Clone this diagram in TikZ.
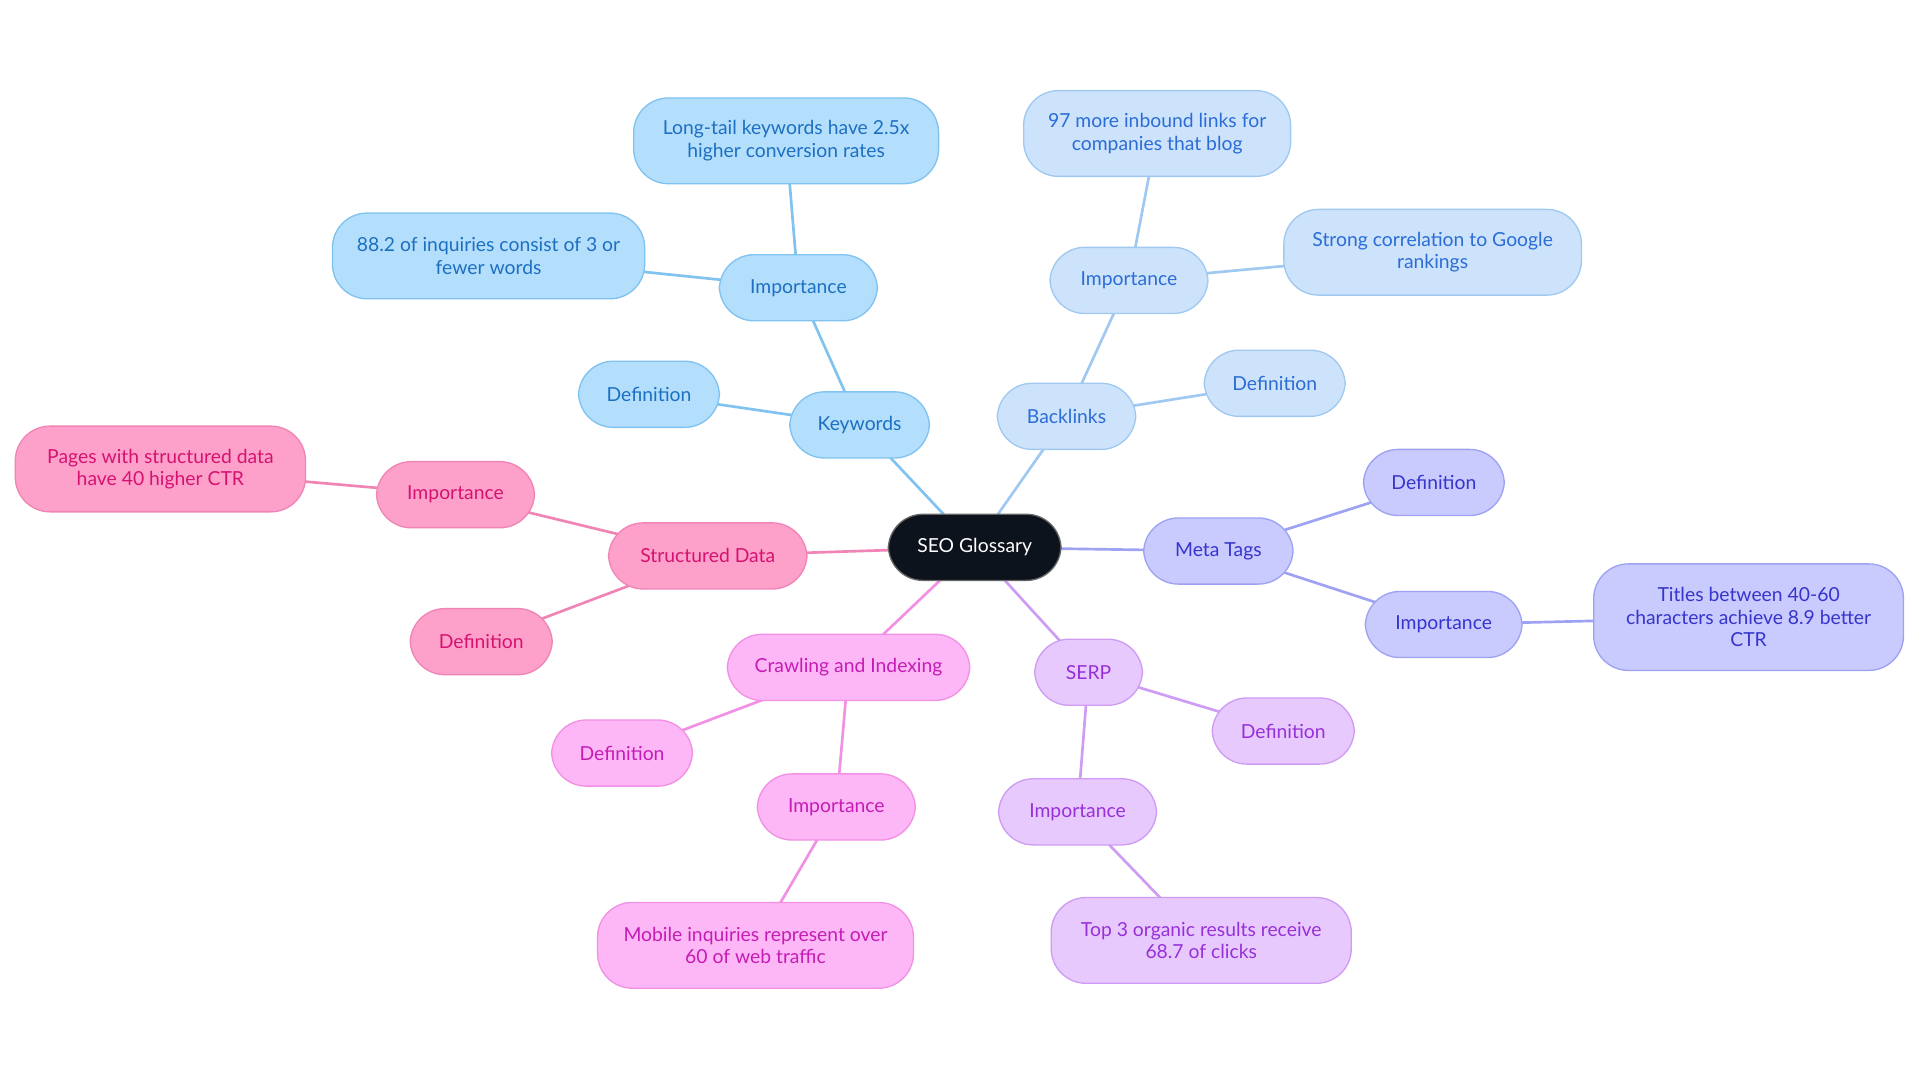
\documentclass[tikz,border=0pt]{standalone}
\usepackage{fontspec}
\setmainfont{Lato}
\usetikzlibrary{backgrounds}
\definecolor{rootfill}{HTML}{0D131C}
\definecolor{kwfill}{HTML}{B3DFFD}\definecolor{kwdraw}{HTML}{80C2F0}\definecolor{kwtext}{HTML}{1D6FC1}
\definecolor{blfill}{HTML}{CDE3FB}\definecolor{bldraw}{HTML}{A0C9F2}\definecolor{bltext}{HTML}{2B6CD6}
\definecolor{mtfill}{HTML}{C9CAFD}\definecolor{mtdraw}{HTML}{9EA2F2}\definecolor{mttext}{HTML}{3535CC}
\definecolor{sefill}{HTML}{E8C9FD}\definecolor{sedraw}{HTML}{CF9CF3}\definecolor{setext}{HTML}{9630D8}
\definecolor{crfill}{HTML}{FDB7F6}\definecolor{crdraw}{HTML}{F290E4}\definecolor{crtext}{HTML}{C41CB5}
\definecolor{sdfill}{HTML}{FDA1CB}\definecolor{sddraw}{HTML}{F085B5}\definecolor{sdtext}{HTML}{D51270}
\tikzset{
  x=0.9184pt,y=-0.9184pt,
  box/.style={rectangle, rounded corners=26pt, line width=1pt, align=center, inner sep=0pt, font=\fontsize{14.5}{17}\selectfont},
  wh/.style 2 args={minimum width=0.9184*#1pt, minimum height=0.9184*#2pt},
  root/.style={box, fill=rootfill, draw=black!60, text=white},
  kw/.style={box, fill=kwfill, draw=kwdraw, text=kwtext},
  bl/.style={box, fill=blfill, draw=bldraw, text=bltext},
  mt/.style={box, fill=mtfill, draw=mtdraw, text=mttext},
  se/.style={box, fill=sefill, draw=sedraw, text=setext},
  cr/.style={box, fill=crfill, draw=crdraw, text=crtext},
  sd/.style={box, fill=sdfill, draw=sddraw, text=sdtext},
  link/.style={line width=2pt},
}
\begin{document}
\begin{tikzpicture}
\useasboundingbox (0,0) rectangle (1568,884.5);
% root
\node[root, wh={141}{54}] (seo) at (796,447) {SEO Glossary};
% keywords
\node[kw, wh={114}{54}] (kw) at (702,347) {Keywords};
\node[kw, wh={115}{54}] (kwdef) at (530,322) {Definition};
\node[kw, wh={129}{54}] (kwimp) at (652,235) {Importance};
\node[kw, wh={249}{70}] (kwlong) at (642,115) {Long-tail keywords have 2.5x\\higher conversion rates};
\node[kw, wh={255}{70}] (kwinq) at (399,209) {88.2 of inquiries consist of 3 or\\fewer words};
% backlinks
\node[bl, wh={113}{54}] (bl) at (871,340) {Backlinks};
\node[bl, wh={115}{54}] (bldef) at (1041,313) {Definition};
\node[bl, wh={129}{54}] (blimp) at (922,229) {Importance};
\node[bl, wh={218}{70}] (blmore) at (945,109) {97 more inbound links for\\companies that blog};
\node[bl, wh={243}{70}] (blcorr) at (1170,206) {Strong correlation to Google\\rankings};
% meta tags
\node[mt, wh={122}{54}] (mt) at (995,450) {Meta Tags};
\node[mt, wh={115}{54}] (mtdef) at (1171,394) {Definition};
\node[mt, wh={128}{54}] (mtimp) at (1179,510) {Importance};
\node[mt, wh={253}{87}] (mttit) at (1428,504) {Titles between 40-60\\characters achieve 8.9 better\\CTR};
% serp
\node[se, wh={88}{54}] (se) at (889,549) {SERP};
\node[se, wh={116}{54}] (sedef) at (1048,597) {Definition};
\node[se, wh={129}{54}] (seimp) at (880,663) {Importance};
\node[se, wh={245}{70}] (setop) at (981,768) {Top 3 organic results receive\\68.7 of clicks};
% crawling
\node[cr, wh={198}{54}] (cr) at (693,545) {Crawling and Indexing};
\node[cr, wh={115}{54}] (crdef) at (508,615) {Definition};
\node[cr, wh={129}{54}] (crimp) at (683,659) {Importance};
\node[cr, wh={258}{70}] (crmob) at (617,772) {Mobile inquiries represent over\\60 of web traffic};
% structured data
\node[sd, wh={162}{54}] (sd) at (578,454) {Structured Data};
\node[sd, wh={129}{54}] (sdimp) at (372,404) {Importance};
\node[sd, wh={237}{70}] (sdpag) at (131,383) {Pages with structured data\\have 40 higher CTR};
\node[sd, wh={116}{54}] (sddef) at (393,524) {Definition};
\begin{scope}[on background layer]
\fill[white] (0,0) rectangle (1568,884.5);
\draw[link, draw=kwdraw] (seo.center) -- (kw.center);
\draw[link, draw=kwdraw] (kw.center) -- (kwdef.center);
\draw[link, draw=kwdraw] (kw.center) -- (kwimp.center);
\draw[link, draw=kwdraw] (kwimp.center) -- (kwlong.center);
\draw[link, draw=kwdraw] (kwimp.center) -- (kwinq.center);
\draw[link, draw=bldraw] (seo.center) -- (bl.center);
\draw[link, draw=bldraw] (bl.center) -- (bldef.center);
\draw[link, draw=bldraw] (bl.center) -- (blimp.center);
\draw[link, draw=bldraw] (blimp.center) -- (blmore.center);
\draw[link, draw=bldraw] (blimp.center) -- (blcorr.center);
\draw[link, draw=mtdraw] (seo.center) -- (mt.center);
\draw[link, draw=mtdraw] (mt.center) -- (mtdef.center);
\draw[link, draw=mtdraw] (mt.center) -- (mtimp.center);
\draw[link, draw=mtdraw] (mtimp.center) -- (mttit.center);
\draw[link, draw=sedraw] (seo.center) -- (se.center);
\draw[link, draw=sedraw] (se.center) -- (sedef.center);
\draw[link, draw=sedraw] (se.center) -- (seimp.center);
\draw[link, draw=sedraw] (seimp.center) -- (setop.center);
\draw[link, draw=crdraw] (seo.center) -- (cr.center);
\draw[link, draw=crdraw] (cr.center) -- (crdef.center);
\draw[link, draw=crdraw] (cr.center) -- (crimp.center);
\draw[link, draw=crdraw] (crimp.center) -- (crmob.center);
\draw[link, draw=sddraw] (seo.center) -- (sd.center);
\draw[link, draw=sddraw] (sd.center) -- (sdimp.center);
\draw[link, draw=sddraw] (sdimp.center) -- (sdpag.center);
\draw[link, draw=sddraw] (sd.center) -- (sddef.center);
\end{scope}
\end{tikzpicture}
\end{document}
